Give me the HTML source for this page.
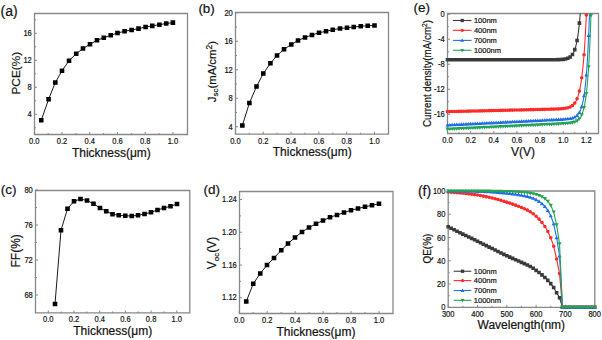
<!DOCTYPE html>
<html><head><meta charset="utf-8"><style>
html,body{margin:0;padding:0;background:#fff;}
svg{display:block;}
text{font-family:"Liberation Sans", sans-serif;fill:#111;stroke:#111;stroke-width:0.2px;}
</style></head><body>
<svg width="602" height="340" viewBox="0 0 602 340">
<rect width="602" height="340" fill="#fff"/>
<path d="M34.5 13.5H187.5V134.5H34.5Z" fill="none" stroke="#888888" stroke-width="1.3"/>
<path d="M34.5 33.25h2.5M34.5 60.25h2.5M34.5 87.25h2.5M34.5 114.25h2.5M34.5 19.75h1.5M34.5 46.75h1.5M34.5 73.75h1.5M34.5 100.75h1.5M34.5 127.75h1.5" stroke="#888888" stroke-width="1" fill="none"/>
<text transform="translate(31.8 36.35) scale(0.86 1)" font-size="8.8" text-anchor="end">16</text>
<text transform="translate(31.8 63.35) scale(0.86 1)" font-size="8.8" text-anchor="end">12</text>
<text transform="translate(31.8 90.35) scale(0.86 1)" font-size="8.8" text-anchor="end">8</text>
<text transform="translate(31.8 117.35) scale(0.86 1)" font-size="8.8" text-anchor="end">4</text>
<path d="M34.3 134.5v-2.5M62.02 134.5v-2.5M89.74 134.5v-2.5M117.46 134.5v-2.5M145.18 134.5v-2.5M172.9 134.5v-2.5M48.16 134.5v-1.5M75.88 134.5v-1.5M103.6 134.5v-1.5M131.32 134.5v-1.5M159.04 134.5v-1.5" stroke="#888888" stroke-width="1" fill="none"/>
<text transform="translate(34.3 143.9) scale(0.86 1)" font-size="8.8" text-anchor="middle">0.0</text>
<text transform="translate(62.02 143.9) scale(0.86 1)" font-size="8.8" text-anchor="middle">0.2</text>
<text transform="translate(89.74 143.9) scale(0.86 1)" font-size="8.8" text-anchor="middle">0.4</text>
<text transform="translate(117.46 143.9) scale(0.86 1)" font-size="8.8" text-anchor="middle">0.6</text>
<text transform="translate(145.18 143.9) scale(0.86 1)" font-size="8.8" text-anchor="middle">0.8</text>
<text transform="translate(172.9 143.9) scale(0.86 1)" font-size="8.8" text-anchor="middle">1.0</text>
<path d="M41.25 120.25 L48.6 99.25 L55.3 82.5 L62 70.75 L69 60.75 L76.2 53.75 L83 48.5 L90 44.25 L97 40.25 L103.75 37.75 L110.75 35.25 L117.5 33 L124.6 31.3 L131.6 30 L138.5 28.6 L145.6 27 L152.3 25.9 L159.4 24.7 L166.2 23.5 L172.9 22.6" fill="none" stroke="#1a1a1a" stroke-width="1.0" stroke-linejoin="round"/>
<path d="M38.95 117.95h4.6v4.6h-4.6zM46.3 96.95h4.6v4.6h-4.6zM53 80.2h4.6v4.6h-4.6zM59.7 68.45h4.6v4.6h-4.6zM66.7 58.45h4.6v4.6h-4.6zM73.9 51.45h4.6v4.6h-4.6zM80.7 46.2h4.6v4.6h-4.6zM87.7 41.95h4.6v4.6h-4.6zM94.7 37.95h4.6v4.6h-4.6zM101.45 35.45h4.6v4.6h-4.6zM108.45 32.95h4.6v4.6h-4.6zM115.2 30.7h4.6v4.6h-4.6zM122.3 29h4.6v4.6h-4.6zM129.3 27.7h4.6v4.6h-4.6zM136.2 26.3h4.6v4.6h-4.6zM143.3 24.7h4.6v4.6h-4.6zM150 23.6h4.6v4.6h-4.6zM157.1 22.4h4.6v4.6h-4.6zM163.9 21.2h4.6v4.6h-4.6zM170.6 20.3h4.6v4.6h-4.6z" fill="#000"/>
<text x="111.4" y="156.7" font-size="12" text-anchor="middle">Thickness(μm)</text>
<text transform="translate(19.9 73.2) rotate(-90)" font-size="11.8" text-anchor="middle">PCE(%)</text>
<text x="0.5" y="15.9" font-size="14" text-anchor="start">(a)</text>
<path d="M235.5 12.5H388.5V134.2H235.5Z" fill="none" stroke="#888888" stroke-width="1.3"/>
<path d="M235.5 12.75h2.5M235.5 41.25h2.5M235.5 69.75h2.5M235.5 98.25h2.5M235.5 126.75h2.5M235.5 27h1.5M235.5 55.5h1.5M235.5 84h1.5M235.5 112.5h1.5" stroke="#888888" stroke-width="1" fill="none"/>
<text transform="translate(232.8 15.85) scale(0.86 1)" font-size="8.8" text-anchor="end">20</text>
<text transform="translate(232.8 44.35) scale(0.86 1)" font-size="8.8" text-anchor="end">16</text>
<text transform="translate(232.8 72.85) scale(0.86 1)" font-size="8.8" text-anchor="end">12</text>
<text transform="translate(232.8 101.35) scale(0.86 1)" font-size="8.8" text-anchor="end">8</text>
<text transform="translate(232.8 129.85) scale(0.86 1)" font-size="8.8" text-anchor="end">4</text>
<path d="M235.4 134.2v-2.5M263.22 134.2v-2.5M291.04 134.2v-2.5M318.86 134.2v-2.5M346.68 134.2v-2.5M374.5 134.2v-2.5M249.31 134.2v-1.5M277.13 134.2v-1.5M304.95 134.2v-1.5M332.77 134.2v-1.5M360.59 134.2v-1.5" stroke="#888888" stroke-width="1" fill="none"/>
<text transform="translate(235.4 143.6) scale(0.86 1)" font-size="8.8" text-anchor="middle">0.0</text>
<text transform="translate(263.22 143.6) scale(0.86 1)" font-size="8.8" text-anchor="middle">0.2</text>
<text transform="translate(291.04 143.6) scale(0.86 1)" font-size="8.8" text-anchor="middle">0.4</text>
<text transform="translate(318.86 143.6) scale(0.86 1)" font-size="8.8" text-anchor="middle">0.6</text>
<text transform="translate(346.68 143.6) scale(0.86 1)" font-size="8.8" text-anchor="middle">0.8</text>
<text transform="translate(374.5 143.6) scale(0.86 1)" font-size="8.8" text-anchor="middle">1.0</text>
<path d="M242.35 125.5 L249.4 103 L256.5 86.5 L263.3 73.5 L270.4 63.3 L277 55.5 L284 49.25 L291.25 44.5 L298 40.5 L305 37.5 L312 35 L319 32.75 L326 31.25 L332.75 29.75 L340 28.5 L347 27.75 L353.75 27 L360.75 26.25 L367.75 25.75 L374.5 25.5" fill="none" stroke="#1a1a1a" stroke-width="1.0" stroke-linejoin="round"/>
<path d="M240.05 123.2h4.6v4.6h-4.6zM247.1 100.7h4.6v4.6h-4.6zM254.2 84.2h4.6v4.6h-4.6zM261 71.2h4.6v4.6h-4.6zM268.1 61h4.6v4.6h-4.6zM274.7 53.2h4.6v4.6h-4.6zM281.7 46.95h4.6v4.6h-4.6zM288.95 42.2h4.6v4.6h-4.6zM295.7 38.2h4.6v4.6h-4.6zM302.7 35.2h4.6v4.6h-4.6zM309.7 32.7h4.6v4.6h-4.6zM316.7 30.45h4.6v4.6h-4.6zM323.7 28.95h4.6v4.6h-4.6zM330.45 27.45h4.6v4.6h-4.6zM337.7 26.2h4.6v4.6h-4.6zM344.7 25.45h4.6v4.6h-4.6zM351.45 24.7h4.6v4.6h-4.6zM358.45 23.95h4.6v4.6h-4.6zM365.45 23.45h4.6v4.6h-4.6zM372.2 23.2h4.6v4.6h-4.6z" fill="#000"/>
<text x="312.25" y="156.2" font-size="12" text-anchor="middle">Thickness(μm)</text>
<text transform="translate(215.8 71.6) rotate(-90)" font-size="11.3" text-anchor="middle">J<tspan font-size="8" dy="1.8">sc</tspan><tspan dy="-1.8">(mA/cm</tspan><tspan font-size="8.6" dy="-4.2">2</tspan><tspan dy="4.2">)</tspan></text>
<text x="198.4" y="12.8" font-size="13.4" text-anchor="start">(b)</text>
<path d="M35.5 190.5H189.8V312.9H35.5Z" fill="none" stroke="#888888" stroke-width="1.3"/>
<path d="M35.5 190h2.5M35.5 225h2.5M35.5 260h2.5M35.5 295h2.5M35.5 207.5h1.5M35.5 242.5h1.5M35.5 277.5h1.5" stroke="#888888" stroke-width="1" fill="none"/>
<text transform="translate(32.8 193.1) scale(0.86 1)" font-size="8.8" text-anchor="end">80</text>
<text transform="translate(32.8 228.1) scale(0.86 1)" font-size="8.8" text-anchor="end">76</text>
<text transform="translate(32.8 263.1) scale(0.86 1)" font-size="8.8" text-anchor="end">72</text>
<text transform="translate(32.8 298.1) scale(0.86 1)" font-size="8.8" text-anchor="end">68</text>
<path d="M48.3 312.9v-2.5M74 312.9v-2.5M99.7 312.9v-2.5M125.4 312.9v-2.5M151.1 312.9v-2.5M176.8 312.9v-2.5M35.45 312.9v-1.5M61.15 312.9v-1.5M86.85 312.9v-1.5M112.55 312.9v-1.5M138.25 312.9v-1.5M163.95 312.9v-1.5" stroke="#888888" stroke-width="1" fill="none"/>
<text transform="translate(48.3 322.3) scale(0.86 1)" font-size="8.8" text-anchor="middle">0.0</text>
<text transform="translate(74 322.3) scale(0.86 1)" font-size="8.8" text-anchor="middle">0.2</text>
<text transform="translate(99.7 322.3) scale(0.86 1)" font-size="8.8" text-anchor="middle">0.4</text>
<text transform="translate(125.4 322.3) scale(0.86 1)" font-size="8.8" text-anchor="middle">0.6</text>
<text transform="translate(151.1 322.3) scale(0.86 1)" font-size="8.8" text-anchor="middle">0.8</text>
<text transform="translate(176.8 322.3) scale(0.86 1)" font-size="8.8" text-anchor="middle">1.0</text>
<path d="M55 304 L61 230.25 L67.5 208.75 L74 201.25 L80.5 199 L87 200.5 L93.5 203.75 L100 208 L106.25 211.25 L112.5 214.25 L118.75 215.25 L125.25 215.75 L131.75 216 L138 215.25 L144.5 214 L151 212.25 L157.5 210 L164 208 L170.5 206.25 L177 204" fill="none" stroke="#1a1a1a" stroke-width="1.0" stroke-linejoin="round"/>
<path d="M52.7 301.7h4.6v4.6h-4.6zM58.7 227.95h4.6v4.6h-4.6zM65.2 206.45h4.6v4.6h-4.6zM71.7 198.95h4.6v4.6h-4.6zM78.2 196.7h4.6v4.6h-4.6zM84.7 198.2h4.6v4.6h-4.6zM91.2 201.45h4.6v4.6h-4.6zM97.7 205.7h4.6v4.6h-4.6zM103.95 208.95h4.6v4.6h-4.6zM110.2 211.95h4.6v4.6h-4.6zM116.45 212.95h4.6v4.6h-4.6zM122.95 213.45h4.6v4.6h-4.6zM129.45 213.7h4.6v4.6h-4.6zM135.7 212.95h4.6v4.6h-4.6zM142.2 211.7h4.6v4.6h-4.6zM148.7 209.95h4.6v4.6h-4.6zM155.2 207.7h4.6v4.6h-4.6zM161.7 205.7h4.6v4.6h-4.6zM168.2 203.95h4.6v4.6h-4.6zM174.7 201.7h4.6v4.6h-4.6z" fill="#000"/>
<text x="112.7" y="334.5" font-size="12" text-anchor="middle">Thickness(μm)</text>
<text transform="translate(20.3 250.8) rotate(-90)" font-size="12" text-anchor="middle">FF(%)</text>
<text x="0.7" y="193.7" font-size="13.6" text-anchor="start">(c)</text>
<path d="M239.5 191.5H393V313.5H239.5Z" fill="none" stroke="#888888" stroke-width="1.3"/>
<path d="M239.5 199.5h2.5M239.5 232.25h2.5M239.5 265h2.5M239.5 297.75h2.5M239.5 215.9h1.5M239.5 248.6h1.5M239.5 281.4h1.5" stroke="#888888" stroke-width="1" fill="none"/>
<text transform="translate(236.8 202) scale(0.86 1)" font-size="8.8" text-anchor="end">1.24</text>
<text transform="translate(236.8 234.75) scale(0.86 1)" font-size="8.8" text-anchor="end">1.20</text>
<text transform="translate(236.8 267.5) scale(0.86 1)" font-size="8.8" text-anchor="end">1.16</text>
<text transform="translate(236.8 300.25) scale(0.86 1)" font-size="8.8" text-anchor="end">1.12</text>
<path d="M239.25 313.5v-2.5M267.2 313.5v-2.5M295.15 313.5v-2.5M323.1 313.5v-2.5M351.05 313.5v-2.5M379 313.5v-2.5M253.22 313.5v-1.5M281.18 313.5v-1.5M309.12 313.5v-1.5M337.07 313.5v-1.5M365.02 313.5v-1.5" stroke="#888888" stroke-width="1" fill="none"/>
<text transform="translate(239.25 322.9) scale(0.86 1)" font-size="8.8" text-anchor="middle">0.0</text>
<text transform="translate(267.2 322.9) scale(0.86 1)" font-size="8.8" text-anchor="middle">0.2</text>
<text transform="translate(295.15 322.9) scale(0.86 1)" font-size="8.8" text-anchor="middle">0.4</text>
<text transform="translate(323.1 322.9) scale(0.86 1)" font-size="8.8" text-anchor="middle">0.6</text>
<text transform="translate(351.05 322.9) scale(0.86 1)" font-size="8.8" text-anchor="middle">0.8</text>
<text transform="translate(379 322.9) scale(0.86 1)" font-size="8.8" text-anchor="middle">1.0</text>
<path d="M246.25 301.5 L253.25 283.75 L260.25 273.5 L267 265 L274 258 L281.25 250.25 L288 243.5 L295 237.5 L302 232 L309 227.5 L316 223.75 L323 220.5 L330 217.25 L337 215 L344 212.5 L351 210.25 L358 208.5 L365 206.75 L372 205.25 L379 203.75" fill="none" stroke="#1a1a1a" stroke-width="1.0" stroke-linejoin="round"/>
<path d="M243.95 299.2h4.6v4.6h-4.6zM250.95 281.45h4.6v4.6h-4.6zM257.95 271.2h4.6v4.6h-4.6zM264.7 262.7h4.6v4.6h-4.6zM271.7 255.7h4.6v4.6h-4.6zM278.95 247.95h4.6v4.6h-4.6zM285.7 241.2h4.6v4.6h-4.6zM292.7 235.2h4.6v4.6h-4.6zM299.7 229.7h4.6v4.6h-4.6zM306.7 225.2h4.6v4.6h-4.6zM313.7 221.45h4.6v4.6h-4.6zM320.7 218.2h4.6v4.6h-4.6zM327.7 214.95h4.6v4.6h-4.6zM334.7 212.7h4.6v4.6h-4.6zM341.7 210.2h4.6v4.6h-4.6zM348.7 207.95h4.6v4.6h-4.6zM355.7 206.2h4.6v4.6h-4.6zM362.7 204.45h4.6v4.6h-4.6zM369.7 202.95h4.6v4.6h-4.6zM376.7 201.45h4.6v4.6h-4.6z" fill="#000"/>
<text x="316" y="335.5" font-size="12" text-anchor="middle">Thickness(μm)</text>
<text transform="translate(216.3 253) rotate(-90)" font-size="12" text-anchor="middle">V<tspan font-size="8" dy="2.5">oc</tspan><tspan dy="-2.5">(V)</tspan></text>
<text x="203.4" y="194.1" font-size="13.6" text-anchor="start">(d)</text>
<path d="M447.5 13.5H598.5V133.5H447.5Z" fill="none" stroke="#888888" stroke-width="1.3"/>
<path d="M447.5 14.25h2.5M447.5 39.25h2.5M447.5 64.25h2.5M447.5 89.25h2.5M447.5 114.25h2.5M447.5 26.75h1.5M447.5 51.75h1.5M447.5 76.75h1.5M447.5 101.75h1.5M447.5 126.75h1.5" stroke="#888888" stroke-width="1" fill="none"/>
<text transform="translate(444.8 17.35) scale(0.86 1)" font-size="8.8" text-anchor="end">0</text>
<text transform="translate(444.8 42.35) scale(0.86 1)" font-size="8.8" text-anchor="end">-4</text>
<text transform="translate(444.8 67.35) scale(0.86 1)" font-size="8.8" text-anchor="end">-8</text>
<text transform="translate(444.8 92.35) scale(0.86 1)" font-size="8.8" text-anchor="end">-12</text>
<text transform="translate(444.8 117.35) scale(0.86 1)" font-size="8.8" text-anchor="end">-16</text>
<path d="M447.5 133.5v-2.5M470.64 133.5v-2.5M493.78 133.5v-2.5M516.92 133.5v-2.5M540.06 133.5v-2.5M563.2 133.5v-2.5M586.34 133.5v-2.5M459.07 133.5v-1.5M482.21 133.5v-1.5M505.35 133.5v-1.5M528.49 133.5v-1.5M551.63 133.5v-1.5M574.77 133.5v-1.5" stroke="#888888" stroke-width="1" fill="none"/>
<text transform="translate(447.5 142.9) scale(0.86 1)" font-size="8.8" text-anchor="middle">0.0</text>
<text transform="translate(470.64 142.9) scale(0.86 1)" font-size="8.8" text-anchor="middle">0.2</text>
<text transform="translate(493.78 142.9) scale(0.86 1)" font-size="8.8" text-anchor="middle">0.4</text>
<text transform="translate(516.92 142.9) scale(0.86 1)" font-size="8.8" text-anchor="middle">0.6</text>
<text transform="translate(540.06 142.9) scale(0.86 1)" font-size="8.8" text-anchor="middle">0.8</text>
<text transform="translate(563.2 142.9) scale(0.86 1)" font-size="8.8" text-anchor="middle">1.0</text>
<text transform="translate(586.34 142.9) scale(0.86 1)" font-size="8.8" text-anchor="middle">1.2</text>
<path d="M447.5 59.82 L448 59.82 L448.5 59.82 L449 59.82 L449.51 59.82 L450.01 59.82 L450.51 59.82 L451.01 59.82 L451.51 59.82 L452 59.82 L452.5 59.82 L453 59.82 L453.51 59.82 L454.01 59.82 L454.51 59.82 L455.01 59.82 L455.51 59.82 L456.02 59.82 L456.5 59.82 L457 59.82 L457.5 59.82 L458.01 59.82 L458.51 59.82 L459.01 59.82 L459.51 59.82 L460.01 59.82 L460.52 59.82 L461 59.82 L461.5 59.82 L462 59.81 L462.51 59.81 L463.01 59.81 L463.51 59.81 L464.01 59.81 L464.51 59.81 L465 59.81 L465.5 59.81 L466 59.81 L466.5 59.81 L467.01 59.81 L467.51 59.81 L468.01 59.81 L468.51 59.81 L469.01 59.81 L469.5 59.81 L470 59.81 L470.5 59.81 L471.01 59.81 L471.51 59.81 L472.01 59.81 L472.51 59.81 L473.01 59.81 L473.52 59.81 L474 59.81 L474.5 59.81 L475 59.81 L475.51 59.81 L476.01 59.81 L476.51 59.81 L477.01 59.81 L477.51 59.81 L478 59.81 L478.5 59.81 L479 59.81 L479.5 59.81 L480.01 59.81 L480.51 59.81 L481.01 59.81 L481.51 59.81 L482.01 59.81 L482.5 59.81 L483 59.81 L483.5 59.81 L484.01 59.81 L484.51 59.81 L485.01 59.81 L485.51 59.81 L486.01 59.8 L486.52 59.8 L487 59.8 L487.5 59.8 L488 59.8 L488.51 59.8 L489.01 59.8 L489.51 59.8 L490.01 59.8 L490.51 59.8 L491.02 59.8 L491.5 59.8 L492 59.8 L492.5 59.8 L493.01 59.8 L493.51 59.8 L494.01 59.8 L494.51 59.8 L495.01 59.8 L495.5 59.8 L496 59.8 L496.5 59.8 L497.01 59.8 L497.51 59.8 L498.01 59.8 L498.51 59.8 L499.01 59.8 L499.51 59.8 L500 59.8 L500.5 59.8 L501 59.8 L501.51 59.8 L502.01 59.8 L502.51 59.8 L503.01 59.8 L503.51 59.8 L504.02 59.8 L504.5 59.8 L505 59.8 L505.5 59.8 L506.01 59.8 L506.51 59.8 L507.01 59.8 L507.51 59.8 L508.01 59.8 L508.5 59.8 L509 59.8 L509.5 59.79 L510 59.79 L510.51 59.79 L511.01 59.79 L511.51 59.79 L512.01 59.79 L512.51 59.79 L513 59.79 L513.5 59.79 L514 59.79 L514.51 59.79 L515.01 59.79 L515.51 59.79 L516.01 59.79 L516.51 59.79 L517.02 59.79 L517.5 59.79 L518 59.79 L518.5 59.79 L519.01 59.79 L519.51 59.79 L520.01 59.79 L520.51 59.79 L521.01 59.79 L521.5 59.79 L522 59.79 L522.5 59.79 L523 59.79 L523.51 59.79 L524.01 59.79 L524.51 59.79 L525.01 59.79 L525.51 59.79 L526 59.79 L526.5 59.79 L527 59.79 L527.51 59.79 L528.01 59.79 L528.51 59.79 L529.01 59.79 L529.51 59.79 L530.02 59.79 L530.5 59.79 L531 59.79 L531.5 59.79 L532.01 59.79 L532.51 59.79 L533.01 59.79 L533.51 59.78 L534.01 59.78 L534.52 59.78 L535 59.78 L535.5 59.78 L536 59.78 L536.51 59.78 L537.01 59.78 L537.51 59.78 L538.01 59.78 L538.51 59.78 L539 59.78 L539.5 59.78 L540 59.78 L540.5 59.78 L541.01 59.78 L541.51 59.78 L542.01 59.78 L542.51 59.78 L543.01 59.78 L543.5 59.78 L544 59.78 L544.5 59.78 L545.01 59.78 L545.51 59.78 L546.01 59.78 L546.51 59.78 L547.01 59.77 L547.52 59.77 L548 59.77 L548.5 59.77 L549 59.77 L549.51 59.77 L550.01 59.77 L550.51 59.77 L551.01 59.76 L551.51 59.76 L552 59.76 L552.5 59.76 L553 59.75 L553.5 59.75 L554.01 59.74 L554.51 59.74 L555.01 59.73 L555.51 59.73 L556.01 59.72 L556.5 59.71 L557 59.7 L557.5 59.69 L558.01 59.68 L558.51 59.66 L559.01 59.65 L559.51 59.63 L560.01 59.61 L560.5 59.58 L561 59.55 L561.5 59.52 L562 59.48 L562.51 59.44 L562.99 59.39 L563.49 59.33 L563.99 59.26 L564.48 59.19 L564.98 59.1 L565.47 59.01 L565.95 58.9 L566.44 58.77 L566.92 58.62 L567.39 58.46 L567.85 58.28 L568.32 58.08 L568.75 57.86 L569.2 57.61 L569.62 57.34 L570.02 57.06 L570.42 56.74 L570.8 56.4 L571.14 56.06 L571.49 55.69 L571.82 55.3 L572.11 54.92 L572.41 54.5 L572.68 54.08 L572.94 53.66 L573.19 53.23 L573.43 52.78 L573.65 52.33 L573.86 51.89 L574.07 51.42 L574.26 50.96 L574.45 50.49 L574.62 50.03 L574.8 49.55 L574.95 49.1 L575.11 48.63 L575.26 48.13 L575.42 47.62 L575.56 47.14 L575.68 46.71 L575.82 46.2 L575.94 45.73 L576.06 45.25 L576.18 44.76 L576.3 44.24 L576.41 43.79 L576.53 43.24 L576.63 42.76 L576.74 42.26 L576.82 41.84 L576.93 41.31 L577.01 40.86 L577.12 40.31 L577.2 39.84 L577.29 39.35 L577.38 38.85 L577.46 38.35 L577.55 37.82 L577.62 37.4 L577.7 36.85 L577.77 36.41 L577.86 35.84 L577.93 35.38 L578 34.9 L578.07 34.42 L578.14 33.93 L578.21 33.43 L578.28 32.92 L578.35 32.39 L578.41 31.86 L578.47 31.46 L578.54 30.91 L578.61 30.35 L578.66 29.92 L578.71 29.49 L578.78 28.9 L578.83 28.45 L578.88 28 L578.95 27.38 L579 26.91 L579.06 26.43 L579.11 25.95 L579.16 25.46 L579.21 24.96 L579.26 24.45 L579.31 23.94 L579.37 23.42 L579.42 22.89 L579.47 22.36 L579.51 21.99 L579.56 21.45 L579.61 20.89 L579.64 20.51 L579.7 19.94 L579.75 19.36 L579.78 18.97 L579.83 18.38 L579.87 17.98 L579.92 17.38 L579.96 16.97 L579.99 16.55 L580.04 15.92 L580.08 15.5 L580.13 14.86 L580.16 14.42 L580.2 13.99 L580.23 13.54 L580.24 13.5" fill="none" stroke="#3a3a3a" stroke-width="1.1" stroke-linejoin="round"/>
<path d="M445.7 58.02h3.6v3.6h-3.6zM448.01 58.02h3.6v3.6h-3.6zM450.33 58.02h3.6v3.6h-3.6zM452.64 58.02h3.6v3.6h-3.6zM454.96 58.02h3.6v3.6h-3.6zM457.27 58.02h3.6v3.6h-3.6zM459.58 58.02h3.6v3.6h-3.6zM461.9 58.01h3.6v3.6h-3.6zM464.21 58.01h3.6v3.6h-3.6zM466.53 58.01h3.6v3.6h-3.6zM468.84 58.01h3.6v3.6h-3.6zM471.15 58.01h3.6v3.6h-3.6zM473.47 58.01h3.6v3.6h-3.6zM475.78 58.01h3.6v3.6h-3.6zM478.1 58.01h3.6v3.6h-3.6zM480.41 58.01h3.6v3.6h-3.6zM482.72 58.01h3.6v3.6h-3.6zM485.04 58h3.6v3.6h-3.6zM487.35 58h3.6v3.6h-3.6zM489.67 58h3.6v3.6h-3.6zM491.98 58h3.6v3.6h-3.6zM494.29 58h3.6v3.6h-3.6zM496.61 58h3.6v3.6h-3.6zM498.92 58h3.6v3.6h-3.6zM501.24 58h3.6v3.6h-3.6zM503.55 58h3.6v3.6h-3.6zM505.86 58h3.6v3.6h-3.6zM508.18 57.99h3.6v3.6h-3.6zM510.49 57.99h3.6v3.6h-3.6zM512.81 57.99h3.6v3.6h-3.6zM515.12 57.99h3.6v3.6h-3.6zM517.43 57.99h3.6v3.6h-3.6zM519.75 57.99h3.6v3.6h-3.6zM522.06 57.99h3.6v3.6h-3.6zM524.38 57.99h3.6v3.6h-3.6zM526.69 57.99h3.6v3.6h-3.6zM529 57.99h3.6v3.6h-3.6zM531.32 57.99h3.6v3.6h-3.6zM533.63 57.98h3.6v3.6h-3.6zM535.95 57.98h3.6v3.6h-3.6zM538.26 57.98h3.6v3.6h-3.6zM540.57 57.98h3.6v3.6h-3.6zM542.89 57.98h3.6v3.6h-3.6zM545.2 57.97h3.6v3.6h-3.6zM547.52 57.97h3.6v3.6h-3.6zM549.83 57.96h3.6v3.6h-3.6zM552.14 57.95h3.6v3.6h-3.6zM554.46 57.92h3.6v3.6h-3.6zM556.77 57.86h3.6v3.6h-3.6zM559.09 57.76h3.6v3.6h-3.6zM561.4 57.56h3.6v3.6h-3.6zM563.71 57.2h3.6v3.6h-3.6zM566.03 56.49h3.6v3.6h-3.6zM568.34 55.16h3.6v3.6h-3.6zM570.66 52.63h3.6v3.6h-3.6zM572.97 47.82h3.6v3.6h-3.6zM575.28 38.68h3.6v3.6h-3.6zM577.6 21.3h3.6v3.6h-3.6z" fill="#3a3a3a"/>
<path d="M447.3 111.66 L447.8 111.65 L448.31 111.64 L448.8 111.62 L449.31 111.61 L449.81 111.6 L450.3 111.59 L450.81 111.58 L451.31 111.56 L451.8 111.55 L452.31 111.54 L452.81 111.53 L453.3 111.52 L453.81 111.51 L454.3 111.49 L454.8 111.48 L455.31 111.47 L455.8 111.46 L456.3 111.45 L456.81 111.43 L457.3 111.42 L457.81 111.41 L458.31 111.4 L458.8 111.39 L459.31 111.37 L459.8 111.36 L460.3 111.35 L460.81 111.34 L461.3 111.33 L461.8 111.32 L462.31 111.3 L462.8 111.29 L463.3 111.28 L463.81 111.27 L464.3 111.26 L464.8 111.24 L465.29 111.23 L465.8 111.22 L466.31 111.21 L466.79 111.2 L467.3 111.19 L467.81 111.17 L468.3 111.16 L468.8 111.15 L469.31 111.14 L469.8 111.13 L470.3 111.11 L470.81 111.1 L471.3 111.09 L471.8 111.08 L472.29 111.07 L472.8 111.06 L473.31 111.04 L473.79 111.03 L474.3 111.02 L474.81 111.01 L475.29 111 L475.8 110.98 L476.31 110.97 L476.8 110.96 L477.3 110.95 L477.79 110.94 L478.3 110.92 L478.8 110.91 L479.29 110.9 L479.8 110.89 L480.3 110.88 L480.79 110.87 L481.3 110.85 L481.81 110.84 L482.29 110.83 L482.8 110.82 L483.29 110.81 L483.79 110.79 L484.3 110.78 L484.79 110.77 L485.3 110.76 L485.8 110.75 L486.29 110.74 L486.8 110.72 L487.3 110.71 L487.79 110.7 L488.3 110.69 L488.79 110.68 L489.29 110.66 L489.8 110.65 L490.29 110.64 L490.79 110.63 L491.3 110.62 L491.79 110.61 L492.3 110.59 L492.8 110.58 L493.29 110.57 L493.8 110.56 L494.3 110.55 L494.79 110.53 L495.3 110.52 L495.79 110.51 L496.29 110.5 L496.8 110.49 L497.29 110.47 L497.79 110.46 L498.3 110.45 L498.79 110.44 L499.29 110.43 L499.8 110.42 L500.29 110.4 L500.8 110.39 L501.28 110.38 L501.79 110.37 L502.3 110.36 L502.78 110.34 L503.29 110.33 L503.8 110.32 L504.29 110.31 L504.79 110.3 L505.3 110.29 L505.79 110.27 L506.29 110.26 L506.78 110.25 L507.29 110.24 L507.79 110.23 L508.28 110.21 L508.79 110.2 L509.3 110.19 L509.78 110.18 L510.29 110.17 L510.8 110.15 L511.29 110.14 L511.79 110.13 L512.28 110.12 L512.79 110.11 L513.29 110.1 L513.78 110.08 L514.29 110.07 L514.79 110.06 L515.28 110.05 L515.79 110.04 L516.29 110.02 L516.78 110.01 L517.29 110 L517.8 109.99 L518.28 109.98 L518.79 109.97 L519.28 109.95 L519.79 109.94 L520.29 109.93 L520.78 109.92 L521.29 109.91 L521.79 109.89 L522.28 109.88 L522.79 109.87 L523.29 109.86 L523.78 109.85 L524.29 109.84 L524.78 109.82 L525.28 109.81 L525.79 109.8 L526.28 109.79 L526.78 109.78 L527.29 109.76 L527.78 109.75 L528.29 109.74 L528.79 109.73 L529.28 109.72 L529.79 109.7 L530.28 109.69 L530.78 109.68 L531.29 109.67 L531.78 109.66 L532.28 109.65 L532.79 109.63 L533.28 109.62 L533.78 109.61 L534.29 109.6 L534.78 109.59 L535.28 109.57 L535.79 109.56 L536.28 109.55 L536.79 109.54 L537.27 109.53 L537.78 109.51 L538.29 109.5 L538.78 109.49 L539.28 109.48 L539.79 109.47 L540.28 109.46 L540.78 109.44 L541.29 109.43 L541.78 109.42 L542.28 109.41 L542.77 109.4 L543.28 109.38 L543.79 109.37 L544.27 109.36 L544.78 109.35 L545.29 109.33 L545.77 109.32 L546.28 109.31 L546.79 109.3 L547.28 109.28 L547.78 109.27 L548.27 109.26 L548.78 109.25 L549.28 109.23 L549.77 109.22 L550.28 109.21 L550.78 109.19 L551.27 109.18 L551.78 109.16 L552.29 109.15 L552.77 109.14 L553.28 109.12 L553.77 109.11 L554.27 109.09 L554.78 109.07 L555.27 109.06 L555.78 109.04 L556.28 109.02 L556.77 109 L557.28 108.98 L557.77 108.96 L558.27 108.94 L558.78 108.91 L559.27 108.89 L559.77 108.86 L560.26 108.83 L560.77 108.8 L561.27 108.76 L561.76 108.72 L562.27 108.68 L562.76 108.64 L563.26 108.59 L563.75 108.53 L564.26 108.47 L564.75 108.41 L565.24 108.34 L565.74 108.25 L566.23 108.17 L566.72 108.07 L567.21 107.96 L567.7 107.84 L568.17 107.71 L568.66 107.55 L569.13 107.39 L569.6 107.21 L570.05 107.02 L570.5 106.8 L570.94 106.57 L571.37 106.31 L571.79 106.04 L572.2 105.74 L572.6 105.43 L572.96 105.11 L573.33 104.77 L573.69 104.4 L574.02 104.03 L574.34 103.64 L574.63 103.26 L574.92 102.85 L575.21 102.41 L575.47 102.01 L575.72 101.57 L575.98 101.11 L576.19 100.69 L576.41 100.25 L576.63 99.78 L576.83 99.34 L577.03 98.86 L577.21 98.41 L577.39 97.94 L577.57 97.45 L577.74 96.99 L577.9 96.51 L578.07 96.01 L578.21 95.55 L578.36 95.07 L578.5 94.58 L578.63 94.13 L578.78 93.6 L578.9 93.12 L579.03 92.63 L579.14 92.19 L579.27 91.67 L579.38 91.21 L579.49 90.74 L579.6 90.25 L579.71 89.75 L579.82 89.23 L579.91 88.8 L580.02 88.26 L580.11 87.8 L580.2 87.32 L580.31 86.75 L580.4 86.25 L580.47 85.85 L580.57 85.33 L580.66 84.81 L580.73 84.38 L580.82 83.83 L580.89 83.38 L580.99 82.81 L581.06 82.34 L581.13 81.87 L581.21 81.39 L581.28 80.9 L581.35 80.4 L581.43 79.89 L581.5 79.37 L581.57 78.84 L581.63 78.44 L581.7 77.89 L581.78 77.34 L581.83 76.92 L581.9 76.35 L581.96 75.91 L582.01 75.47 L582.09 74.87 L582.14 74.41 L582.2 73.95 L582.25 73.48 L582.33 72.85 L582.38 72.37 L582.44 71.88 L582.49 71.38 L582.55 70.88 L582.6 70.37 L582.66 69.86 L582.7 69.51 L582.75 68.98 L582.81 68.44 L582.86 67.9 L582.92 67.35 L582.95 66.98 L583.01 66.42 L583.07 65.85 L583.1 65.47 L583.16 64.89 L583.19 64.49 L583.25 63.9 L583.29 63.5 L583.34 62.89 L583.38 62.48 L583.44 61.85 L583.47 61.43 L583.51 61.01 L583.56 60.37 L583.6 59.93 L583.64 59.5 L583.69 58.83 L583.73 58.39 L583.77 57.94 L583.81 57.48 L583.84 57.02 L583.88 56.56 L583.94 55.86 L583.97 55.38 L584.01 54.91 L584.05 54.42 L584.08 53.94 L584.12 53.45 L584.16 52.95 L584.2 52.45 L584.23 51.95 L584.27 51.44 L584.31 50.93 L584.34 50.41 L584.38 49.89 L584.42 49.36 L584.46 48.83 L584.48 48.56 L584.51 48.02 L584.55 47.47 L584.59 46.93 L584.62 46.37 L584.66 45.81 L584.68 45.53 L584.72 44.97 L584.76 44.39 L584.79 43.82 L584.81 43.53 L584.85 42.94 L584.89 42.35 L584.9 42.06 L584.94 41.46 L584.98 40.86 L585 40.55 L585.04 39.94 L585.07 39.33 L585.09 39.02 L585.13 38.39 L585.15 38.08 L585.19 37.44 L585.22 36.8 L585.24 36.48 L585.28 35.83 L585.3 35.51 L585.34 34.85 L585.35 34.52 L585.39 33.86 L585.41 33.52 L585.45 32.85 L585.47 32.51 L585.5 31.83 L585.52 31.48 L585.56 30.79 L585.58 30.44 L585.6 30.09 L585.64 29.39 L585.66 29.03 L585.69 28.32 L585.71 27.96 L585.73 27.6 L585.77 26.87 L585.79 26.5 L585.82 25.76 L585.84 25.39 L585.86 25.02 L585.9 24.27 L585.92 23.89 L585.94 23.51 L585.98 22.75 L585.99 22.36 L586.01 21.98 L586.03 21.59 L586.07 20.81 L586.09 20.42 L586.11 20.02 L586.13 19.62 L586.16 18.82 L586.18 18.42 L586.2 18.02 L586.22 17.61 L586.26 16.8 L586.28 16.38 L586.3 15.97 L586.32 15.56 L586.35 14.72 L586.37 14.3 L586.39 13.88 L586.41 13.5" fill="none" stroke="#ff2a2a" stroke-width="1.1" stroke-linejoin="round"/>
<path d="M445.7 111.65a1.8 1.8 0 1 0 3.6 0a1.8 1.8 0 1 0 -3.6 0zM448.01 111.6a1.8 1.8 0 1 0 3.6 0a1.8 1.8 0 1 0 -3.6 0zM450.33 111.55a1.8 1.8 0 1 0 3.6 0a1.8 1.8 0 1 0 -3.6 0zM452.64 111.49a1.8 1.8 0 1 0 3.6 0a1.8 1.8 0 1 0 -3.6 0zM454.96 111.44a1.8 1.8 0 1 0 3.6 0a1.8 1.8 0 1 0 -3.6 0zM457.27 111.38a1.8 1.8 0 1 0 3.6 0a1.8 1.8 0 1 0 -3.6 0zM459.58 111.33a1.8 1.8 0 1 0 3.6 0a1.8 1.8 0 1 0 -3.6 0zM461.9 111.27a1.8 1.8 0 1 0 3.6 0a1.8 1.8 0 1 0 -3.6 0zM464.21 111.22a1.8 1.8 0 1 0 3.6 0a1.8 1.8 0 1 0 -3.6 0zM466.53 111.16a1.8 1.8 0 1 0 3.6 0a1.8 1.8 0 1 0 -3.6 0zM468.84 111.11a1.8 1.8 0 1 0 3.6 0a1.8 1.8 0 1 0 -3.6 0zM471.15 111.05a1.8 1.8 0 1 0 3.6 0a1.8 1.8 0 1 0 -3.6 0zM473.47 111a1.8 1.8 0 1 0 3.6 0a1.8 1.8 0 1 0 -3.6 0zM475.78 110.94a1.8 1.8 0 1 0 3.6 0a1.8 1.8 0 1 0 -3.6 0zM478.1 110.89a1.8 1.8 0 1 0 3.6 0a1.8 1.8 0 1 0 -3.6 0zM480.41 110.83a1.8 1.8 0 1 0 3.6 0a1.8 1.8 0 1 0 -3.6 0zM482.72 110.78a1.8 1.8 0 1 0 3.6 0a1.8 1.8 0 1 0 -3.6 0zM485.04 110.72a1.8 1.8 0 1 0 3.6 0a1.8 1.8 0 1 0 -3.6 0zM487.35 110.67a1.8 1.8 0 1 0 3.6 0a1.8 1.8 0 1 0 -3.6 0zM489.67 110.61a1.8 1.8 0 1 0 3.6 0a1.8 1.8 0 1 0 -3.6 0zM491.98 110.56a1.8 1.8 0 1 0 3.6 0a1.8 1.8 0 1 0 -3.6 0zM494.29 110.5a1.8 1.8 0 1 0 3.6 0a1.8 1.8 0 1 0 -3.6 0zM496.61 110.45a1.8 1.8 0 1 0 3.6 0a1.8 1.8 0 1 0 -3.6 0zM498.92 110.39a1.8 1.8 0 1 0 3.6 0a1.8 1.8 0 1 0 -3.6 0zM501.24 110.34a1.8 1.8 0 1 0 3.6 0a1.8 1.8 0 1 0 -3.6 0zM503.55 110.28a1.8 1.8 0 1 0 3.6 0a1.8 1.8 0 1 0 -3.6 0zM505.86 110.23a1.8 1.8 0 1 0 3.6 0a1.8 1.8 0 1 0 -3.6 0zM508.18 110.17a1.8 1.8 0 1 0 3.6 0a1.8 1.8 0 1 0 -3.6 0zM510.49 110.12a1.8 1.8 0 1 0 3.6 0a1.8 1.8 0 1 0 -3.6 0zM512.81 110.06a1.8 1.8 0 1 0 3.6 0a1.8 1.8 0 1 0 -3.6 0zM515.12 110.01a1.8 1.8 0 1 0 3.6 0a1.8 1.8 0 1 0 -3.6 0zM517.43 109.95a1.8 1.8 0 1 0 3.6 0a1.8 1.8 0 1 0 -3.6 0zM519.75 109.9a1.8 1.8 0 1 0 3.6 0a1.8 1.8 0 1 0 -3.6 0zM522.06 109.85a1.8 1.8 0 1 0 3.6 0a1.8 1.8 0 1 0 -3.6 0zM524.38 109.79a1.8 1.8 0 1 0 3.6 0a1.8 1.8 0 1 0 -3.6 0zM526.69 109.74a1.8 1.8 0 1 0 3.6 0a1.8 1.8 0 1 0 -3.6 0zM529 109.68a1.8 1.8 0 1 0 3.6 0a1.8 1.8 0 1 0 -3.6 0zM531.32 109.63a1.8 1.8 0 1 0 3.6 0a1.8 1.8 0 1 0 -3.6 0zM533.63 109.57a1.8 1.8 0 1 0 3.6 0a1.8 1.8 0 1 0 -3.6 0zM535.95 109.52a1.8 1.8 0 1 0 3.6 0a1.8 1.8 0 1 0 -3.6 0zM538.26 109.46a1.8 1.8 0 1 0 3.6 0a1.8 1.8 0 1 0 -3.6 0zM540.57 109.4a1.8 1.8 0 1 0 3.6 0a1.8 1.8 0 1 0 -3.6 0zM542.89 109.35a1.8 1.8 0 1 0 3.6 0a1.8 1.8 0 1 0 -3.6 0zM545.2 109.29a1.8 1.8 0 1 0 3.6 0a1.8 1.8 0 1 0 -3.6 0zM547.52 109.23a1.8 1.8 0 1 0 3.6 0a1.8 1.8 0 1 0 -3.6 0zM549.83 109.17a1.8 1.8 0 1 0 3.6 0a1.8 1.8 0 1 0 -3.6 0zM552.14 109.1a1.8 1.8 0 1 0 3.6 0a1.8 1.8 0 1 0 -3.6 0zM554.46 109.02a1.8 1.8 0 1 0 3.6 0a1.8 1.8 0 1 0 -3.6 0zM556.77 108.92a1.8 1.8 0 1 0 3.6 0a1.8 1.8 0 1 0 -3.6 0zM559.09 108.79a1.8 1.8 0 1 0 3.6 0a1.8 1.8 0 1 0 -3.6 0zM561.4 108.59a1.8 1.8 0 1 0 3.6 0a1.8 1.8 0 1 0 -3.6 0zM563.71 108.29a1.8 1.8 0 1 0 3.6 0a1.8 1.8 0 1 0 -3.6 0zM566.03 107.8a1.8 1.8 0 1 0 3.6 0a1.8 1.8 0 1 0 -3.6 0zM568.34 106.97a1.8 1.8 0 1 0 3.6 0a1.8 1.8 0 1 0 -3.6 0zM570.66 105.55a1.8 1.8 0 1 0 3.6 0a1.8 1.8 0 1 0 -3.6 0zM572.97 103.07a1.8 1.8 0 1 0 3.6 0a1.8 1.8 0 1 0 -3.6 0zM575.28 98.73a1.8 1.8 0 1 0 3.6 0a1.8 1.8 0 1 0 -3.6 0zM577.6 91.12a1.8 1.8 0 1 0 3.6 0a1.8 1.8 0 1 0 -3.6 0zM579.91 77.82a1.8 1.8 0 1 0 3.6 0a1.8 1.8 0 1 0 -3.6 0zM582.23 54.7a1.8 1.8 0 1 0 3.6 0a1.8 1.8 0 1 0 -3.6 0zM584.54 15.03a1.8 1.8 0 1 0 3.6 0a1.8 1.8 0 1 0 -3.6 0z" fill="#ff2a2a"/>
<path d="M447.4 125.05 L447.92 125.03 L448.42 125 L448.91 124.98 L449.41 124.95 L449.91 124.93 L450.41 124.9 L450.91 124.88 L451.41 124.85 L451.91 124.83 L452.41 124.8 L452.9 124.78 L453.4 124.75 L453.9 124.73 L454.4 124.7 L454.9 124.68 L455.4 124.65 L455.9 124.63 L456.4 124.6 L456.89 124.58 L457.39 124.55 L457.89 124.53 L458.39 124.5 L458.89 124.48 L459.39 124.45 L459.89 124.43 L460.39 124.4 L460.89 124.38 L461.38 124.35 L461.88 124.33 L462.38 124.3 L462.9 124.28 L463.4 124.25 L463.9 124.23 L464.4 124.2 L464.89 124.18 L465.39 124.15 L465.89 124.13 L466.39 124.1 L466.89 124.08 L467.39 124.05 L467.89 124.03 L468.39 124 L468.88 123.98 L469.38 123.95 L469.88 123.93 L470.38 123.9 L470.88 123.88 L471.38 123.86 L471.88 123.83 L472.38 123.81 L472.87 123.78 L473.37 123.76 L473.87 123.73 L474.37 123.71 L474.87 123.68 L475.37 123.66 L475.87 123.63 L476.37 123.61 L476.86 123.58 L477.36 123.56 L477.88 123.53 L478.38 123.51 L478.88 123.48 L479.38 123.46 L479.88 123.43 L480.37 123.41 L480.87 123.38 L481.37 123.36 L481.87 123.33 L482.37 123.31 L482.87 123.28 L483.37 123.26 L483.87 123.23 L484.36 123.21 L484.86 123.18 L485.36 123.16 L485.86 123.13 L486.36 123.11 L486.86 123.08 L487.36 123.06 L487.86 123.03 L488.35 123.01 L488.85 122.98 L489.35 122.96 L489.85 122.93 L490.35 122.91 L490.85 122.88 L491.35 122.86 L491.85 122.83 L492.34 122.81 L492.84 122.78 L493.36 122.76 L493.86 122.73 L494.36 122.71 L494.86 122.68 L495.36 122.66 L495.85 122.63 L496.35 122.61 L496.85 122.58 L497.35 122.56 L497.85 122.53 L498.35 122.51 L498.85 122.48 L499.35 122.46 L499.84 122.44 L500.34 122.41 L500.84 122.39 L501.34 122.36 L501.84 122.34 L502.34 122.31 L502.84 122.29 L503.34 122.26 L503.84 122.24 L504.33 122.21 L504.83 122.19 L505.33 122.16 L505.83 122.14 L506.33 122.11 L506.83 122.09 L507.33 122.06 L507.83 122.04 L508.34 122.01 L508.84 121.99 L509.34 121.96 L509.84 121.94 L510.34 121.91 L510.84 121.89 L511.34 121.86 L511.83 121.84 L512.33 121.81 L512.83 121.79 L513.33 121.76 L513.83 121.74 L514.33 121.71 L514.83 121.69 L515.33 121.66 L515.82 121.64 L516.32 121.61 L516.82 121.59 L517.32 121.56 L517.82 121.54 L518.32 121.51 L518.82 121.49 L519.32 121.46 L519.81 121.44 L520.31 121.41 L520.81 121.39 L521.31 121.36 L521.81 121.34 L522.31 121.31 L522.81 121.29 L523.31 121.26 L523.82 121.24 L524.32 121.21 L524.82 121.19 L525.32 121.16 L525.82 121.14 L526.32 121.11 L526.82 121.09 L527.31 121.06 L527.81 121.04 L528.31 121.01 L528.81 120.99 L529.31 120.97 L529.81 120.94 L530.31 120.92 L530.81 120.89 L531.3 120.87 L531.8 120.84 L532.3 120.82 L532.8 120.79 L533.3 120.77 L533.8 120.74 L534.3 120.72 L534.8 120.69 L535.29 120.67 L535.79 120.64 L536.29 120.62 L536.79 120.59 L537.29 120.57 L537.79 120.54 L538.29 120.52 L538.8 120.49 L539.3 120.47 L539.8 120.44 L540.3 120.42 L540.8 120.39 L541.3 120.37 L541.8 120.34 L542.3 120.32 L542.79 120.29 L543.29 120.27 L543.79 120.24 L544.29 120.22 L544.79 120.19 L545.29 120.17 L545.79 120.14 L546.29 120.12 L546.78 120.09 L547.28 120.07 L547.78 120.04 L548.28 120.02 L548.78 119.99 L549.28 119.97 L549.78 119.94 L550.28 119.92 L550.78 119.89 L551.27 119.87 L551.77 119.84 L552.27 119.82 L552.77 119.79 L553.27 119.77 L553.77 119.74 L554.29 119.71 L554.78 119.69 L555.28 119.66 L555.78 119.64 L556.28 119.61 L556.78 119.58 L557.28 119.56 L557.78 119.53 L558.28 119.51 L558.77 119.48 L559.27 119.45 L559.77 119.42 L560.27 119.39 L560.77 119.36 L561.27 119.34 L561.77 119.31 L562.27 119.27 L562.76 119.24 L563.26 119.21 L563.76 119.17 L564.26 119.14 L564.76 119.1 L565.26 119.06 L565.76 119.02 L566.26 118.98 L566.75 118.93 L567.25 118.88 L567.75 118.82 L568.23 118.77 L568.73 118.7 L569.23 118.63 L569.73 118.56 L570.23 118.47 L570.71 118.38 L571.21 118.28 L571.69 118.17 L572.17 118.04 L572.65 117.91 L573.13 117.75 L573.59 117.58 L574.07 117.39 L574.51 117.19 L574.96 116.96 L575.4 116.71 L575.83 116.43 L576.23 116.14 L576.62 115.83 L576.99 115.51 L577.36 115.15 L577.69 114.8 L578.03 114.41 L578.32 114.03 L578.62 113.62 L578.9 113.21 L579.17 112.76 L579.41 112.35 L579.65 111.91 L579.88 111.47 L580.1 111.01 L580.3 110.56 L580.51 110.08 L580.69 109.62 L580.88 109.14 L581.04 108.68 L581.21 108.21 L581.38 107.71 L581.52 107.24 L581.67 106.76 L581.8 106.32 L581.95 105.79 L582.08 105.32 L582.21 104.83 L582.32 104.39 L582.45 103.86 L582.56 103.39 L582.67 102.91 L582.78 102.41 L582.9 101.9 L582.99 101.46 L583.1 100.92 L583.19 100.45 L583.29 99.97 L583.38 99.48 L583.47 98.98 L583.56 98.46 L583.66 97.93 L583.73 97.5 L583.82 96.94 L583.9 96.49 L583.97 96.02 L584.05 95.55 L584.12 95.06 L584.2 94.57 L584.27 94.06 L584.34 93.55 L584.42 93.02 L584.49 92.48 L584.55 92.07 L584.62 91.51 L584.68 91.09 L584.75 90.51 L584.81 90.07 L584.87 89.62 L584.94 89.01 L585 88.54 L585.05 88.07 L585.11 87.59 L585.16 87.1 L585.22 86.61 L585.27 86.1 L585.33 85.59 L585.39 85.07 L585.44 84.55 L585.5 84.01 L585.54 83.65 L585.59 83.1 L585.65 82.54 L585.68 82.16 L585.74 81.59 L585.8 81.01 L585.83 80.61 L585.89 80.01 L585.93 79.61 L585.98 79 L586.02 78.58 L586.06 78.16 L586.11 77.53 L586.15 77.1 L586.19 76.66 L586.24 76 L586.28 75.56 L586.32 75.11 L586.36 74.65 L586.39 74.19 L586.45 73.49 L586.49 73.02 L586.52 72.54 L586.56 72.06 L586.6 71.57 L586.64 71.08 L586.67 70.58 L586.71 70.08 L586.75 69.57 L586.79 69.06 L586.82 68.54 L586.86 68.01 L586.9 67.48 L586.92 67.22 L586.95 66.68 L586.99 66.13 L587.03 65.58 L587.07 65.03 L587.1 64.47 L587.12 64.18 L587.16 63.61 L587.2 63.04 L587.24 62.46 L587.25 62.16 L587.29 61.57 L587.33 60.97 L587.35 60.67 L587.39 60.07 L587.42 59.45 L587.44 59.14 L587.48 58.52 L587.5 58.21 L587.54 57.57 L587.57 56.93 L587.59 56.61 L587.63 55.96 L587.65 55.63 L587.69 54.97 L587.7 54.64 L587.74 53.97 L587.76 53.63 L587.8 52.95 L587.82 52.61 L587.85 51.92 L587.87 51.57 L587.89 51.22 L587.93 50.51 L587.95 50.16 L587.99 49.44 L588.01 49.08 L588.02 48.71 L588.06 47.98 L588.08 47.61 L588.1 47.24 L588.14 46.49 L588.16 46.12 L588.17 45.74 L588.21 44.97 L588.23 44.59 L588.25 44.2 L588.29 43.42 L588.31 43.03 L588.33 42.63 L588.34 42.23 L588.38 41.43 L588.4 41.03 L588.42 40.62 L588.44 40.22 L588.48 39.39 L588.49 38.98 L588.51 38.56 L588.53 38.14 L588.55 37.72 L588.59 36.88 L588.61 36.45 L588.63 36.02 L588.65 35.59 L588.66 35.15 L588.68 34.72 L588.72 33.84 L588.74 33.39 L588.76 32.95 L588.78 32.5 L588.8 32.05 L588.82 31.6 L588.83 31.14 L588.85 30.68 L588.87 30.22 L588.89 29.76 L588.93 28.83 L588.95 28.36 L588.97 27.89 L588.99 27.41 L589 26.93 L589.02 26.45 L589.04 25.97 L589.06 25.49 L589.08 25 L589.1 24.51 L589.12 24.02 L589.14 23.52 L589.16 23.03 L589.17 22.53 L589.19 22.02 L589.21 21.52 L589.23 21.01 L589.25 20.5 L589.27 19.98 L589.29 19.47 L589.31 18.95 L589.33 18.43 L589.35 17.9 L589.36 17.38 L589.38 16.85 L589.4 16.31 L589.42 15.78 L589.42 15.78 L589.44 15.24 L589.46 14.7 L589.48 14.16 L589.5 13.61 L589.5 13.5" fill="none" stroke="#1f6fe8" stroke-width="1.1" stroke-linejoin="round"/>
<path d="M447.5 122.99L449.6 126.59L445.4 126.59zM449.81 122.88L451.91 126.47L447.71 126.47zM452.13 122.76L454.23 126.35L450.03 126.35zM454.44 122.65L456.54 126.24L452.34 126.24zM456.76 122.53L458.86 126.12L454.66 126.12zM459.07 122.42L461.17 126.01L456.97 126.01zM461.38 122.3L463.48 125.89L459.28 125.89zM463.7 122.19L465.8 125.78L461.6 125.78zM466.01 122.07L468.11 125.66L463.91 125.66zM468.33 121.96L470.43 125.55L466.23 125.55zM470.64 121.84L472.74 125.43L468.54 125.43zM472.95 121.72L475.05 125.32L470.85 125.32zM475.27 121.61L477.37 125.2L473.17 125.2zM477.58 121.49L479.68 125.08L475.48 125.08zM479.9 121.38L482 124.97L477.8 124.97zM482.21 121.26L484.31 124.85L480.11 124.85zM484.52 121.15L486.62 124.74L482.42 124.74zM486.84 121.03L488.94 124.62L484.74 124.62zM489.15 120.92L491.25 124.51L487.05 124.51zM491.47 120.8L493.57 124.39L489.37 124.39zM493.78 120.69L495.88 124.28L491.68 124.28zM496.09 120.57L498.19 124.16L493.99 124.16zM498.41 120.45L500.51 124.05L496.31 124.05zM500.72 120.34L502.82 123.93L498.62 123.93zM503.04 120.22L505.14 123.81L500.94 123.81zM505.35 120.11L507.45 123.7L503.25 123.7zM507.66 119.99L509.76 123.58L505.56 123.58zM509.98 119.88L512.08 123.47L507.88 123.47zM512.29 119.76L514.39 123.35L510.19 123.35zM514.61 119.65L516.71 123.24L512.51 123.24zM516.92 119.53L519.02 123.12L514.82 123.12zM519.23 119.42L521.33 123.01L517.13 123.01zM521.55 119.3L523.65 122.89L519.45 122.89zM523.86 119.18L525.96 122.78L521.76 122.78zM526.18 119.07L528.28 122.66L524.08 122.66zM528.49 118.95L530.59 122.55L526.39 122.55zM530.8 118.84L532.9 122.43L528.7 122.43zM533.12 118.72L535.22 122.31L531.02 122.31zM535.43 118.61L537.53 122.2L533.33 122.2zM537.75 118.49L539.85 122.08L535.65 122.08zM540.06 118.38L542.16 121.97L537.96 121.97zM542.37 118.26L544.47 121.85L540.27 121.85zM544.69 118.15L546.79 121.74L542.59 121.74zM547 118.03L549.1 121.62L544.9 121.62zM549.32 117.91L551.42 121.5L547.22 121.5zM551.63 117.8L553.73 121.39L549.53 121.39zM553.94 117.68L556.04 121.27L551.84 121.27zM556.26 117.56L558.36 121.15L554.16 121.15zM558.57 117.44L560.67 121.03L556.47 121.03zM560.89 117.31L562.99 120.9L558.79 120.9zM563.2 117.16L565.3 120.75L561.1 120.75zM565.51 116.99L567.61 120.58L563.41 120.58zM567.83 116.76L569.93 120.35L565.73 120.35zM570.14 116.44L572.24 120.03L568.04 120.03zM572.46 115.91L574.56 119.5L570.36 119.5zM574.77 115.01L576.87 118.6L572.67 118.6zM577.08 113.37L579.18 116.96L574.98 116.96zM579.4 110.33L581.5 113.92L577.3 113.92zM581.71 104.57L583.81 108.16L579.61 108.16zM584.03 93.63L586.13 97.22L581.93 97.22zM586.34 72.8L588.44 76.39L584.24 76.39zM588.65 33.34L590.75 36.93L586.55 36.93z" fill="#1f6fe8"/>
<path d="M447.5 129.15 L448 129.13 L448.51 129.11 L449.01 129.08 L449.52 129.06 L450 129.04 L450.5 129.01 L451.01 128.99 L451.51 128.96 L452 128.94 L452.5 128.92 L453.01 128.89 L453.51 128.87 L453.99 128.85 L454.5 128.82 L455 128.8 L455.51 128.77 L455.99 128.75 L456.5 128.73 L457 128.7 L457.5 128.68 L457.99 128.66 L458.49 128.63 L459 128.61 L459.5 128.58 L459.99 128.56 L460.49 128.54 L460.99 128.51 L461.5 128.49 L462 128.46 L462.49 128.44 L462.99 128.42 L463.5 128.39 L464 128.37 L464.48 128.35 L464.99 128.32 L465.49 128.3 L466 128.27 L466.48 128.25 L466.99 128.23 L467.49 128.2 L467.99 128.18 L468.48 128.16 L468.98 128.13 L469.49 128.11 L469.99 128.08 L470.48 128.06 L470.98 128.04 L471.48 128.01 L471.99 127.99 L472.47 127.97 L472.98 127.94 L473.48 127.92 L473.98 127.89 L474.47 127.87 L474.97 127.85 L475.48 127.82 L475.98 127.8 L476.49 127.78 L476.97 127.75 L477.47 127.73 L477.98 127.7 L478.48 127.68 L478.97 127.66 L479.47 127.63 L479.98 127.61 L480.48 127.58 L480.96 127.56 L481.47 127.54 L481.97 127.51 L482.48 127.49 L482.96 127.47 L483.47 127.44 L483.97 127.42 L484.47 127.39 L484.96 127.37 L485.46 127.35 L485.97 127.32 L486.47 127.3 L486.96 127.28 L487.46 127.25 L487.96 127.23 L488.47 127.2 L488.95 127.18 L489.46 127.16 L489.96 127.13 L490.47 127.11 L490.97 127.09 L491.45 127.06 L491.96 127.04 L492.46 127.01 L492.97 126.99 L493.45 126.97 L493.96 126.94 L494.46 126.92 L494.96 126.9 L495.45 126.87 L495.95 126.85 L496.46 126.82 L496.96 126.8 L497.45 126.78 L497.95 126.75 L498.45 126.73 L498.96 126.71 L499.44 126.68 L499.95 126.66 L500.45 126.63 L500.95 126.61 L501.44 126.59 L501.94 126.56 L502.45 126.54 L502.95 126.52 L503.44 126.49 L503.94 126.47 L504.44 126.44 L504.95 126.42 L505.45 126.4 L505.94 126.37 L506.44 126.35 L506.95 126.33 L507.45 126.3 L507.93 126.28 L508.44 126.25 L508.94 126.23 L509.45 126.21 L509.93 126.18 L510.44 126.16 L510.94 126.14 L511.44 126.11 L511.93 126.09 L512.43 126.06 L512.94 126.04 L513.44 126.02 L513.93 125.99 L514.43 125.97 L514.93 125.94 L515.44 125.92 L515.92 125.9 L516.43 125.87 L516.93 125.85 L517.44 125.83 L517.92 125.8 L518.42 125.78 L518.93 125.75 L519.43 125.73 L519.94 125.71 L520.42 125.68 L520.93 125.66 L521.43 125.64 L521.93 125.61 L522.42 125.59 L522.92 125.56 L523.43 125.54 L523.93 125.52 L524.42 125.49 L524.92 125.47 L525.42 125.45 L525.93 125.42 L526.41 125.4 L526.92 125.37 L527.42 125.35 L527.92 125.33 L528.41 125.3 L528.91 125.28 L529.42 125.26 L529.92 125.23 L530.41 125.21 L530.91 125.18 L531.41 125.16 L531.92 125.14 L532.4 125.11 L532.91 125.09 L533.41 125.07 L533.92 125.04 L534.42 125.02 L534.9 124.99 L535.41 124.97 L535.91 124.95 L536.42 124.92 L536.9 124.9 L537.41 124.88 L537.91 124.85 L538.41 124.83 L538.9 124.8 L539.4 124.78 L539.91 124.76 L540.41 124.73 L540.9 124.71 L541.4 124.69 L541.9 124.66 L542.41 124.64 L542.89 124.61 L543.4 124.59 L543.9 124.57 L544.41 124.54 L544.89 124.52 L545.39 124.49 L545.9 124.47 L546.4 124.45 L546.89 124.42 L547.39 124.4 L547.9 124.38 L548.4 124.35 L548.9 124.33 L549.39 124.3 L549.89 124.28 L550.4 124.26 L550.9 124.23 L551.39 124.21 L551.89 124.18 L552.39 124.16 L552.9 124.14 L553.38 124.11 L553.89 124.09 L554.39 124.06 L554.89 124.04 L555.38 124.02 L555.88 123.99 L556.39 123.97 L556.89 123.94 L557.38 123.92 L557.88 123.89 L558.38 123.87 L558.89 123.84 L559.37 123.82 L559.88 123.79 L560.38 123.76 L560.89 123.74 L561.37 123.71 L561.87 123.68 L562.38 123.65 L562.88 123.62 L563.37 123.59 L563.87 123.56 L564.38 123.53 L564.88 123.5 L565.37 123.47 L565.87 123.43 L566.37 123.39 L566.86 123.35 L567.36 123.31 L567.87 123.27 L568.37 123.22 L568.86 123.17 L569.36 123.11 L569.84 123.05 L570.35 122.99 L570.83 122.92 L571.34 122.84 L571.82 122.75 L572.33 122.66 L572.81 122.55 L573.3 122.43 L573.78 122.3 L574.25 122.16 L574.73 122 L575.2 121.82 L575.67 121.62 L576.12 121.41 L576.55 121.18 L576.97 120.92 L577.4 120.64 L577.8 120.35 L578.19 120.02 L578.56 119.68 L578.92 119.33 L579.25 118.96 L579.57 118.57 L579.87 118.18 L580.17 117.76 L580.43 117.36 L580.69 116.93 L580.93 116.5 L581.17 116.04 L581.4 115.59 L581.6 115.15 L581.81 114.69 L582 114.24 L582.18 113.77 L582.37 113.28 L582.54 112.81 L582.7 112.32 L582.85 111.87 L583 111.4 L583.15 110.9 L583.28 110.46 L583.43 109.92 L583.56 109.44 L583.67 109.01 L583.81 108.49 L583.92 108.03 L584.03 107.55 L584.14 107.06 L584.25 106.56 L584.37 106.04 L584.46 105.59 L584.57 105.04 L584.66 104.57 L584.76 104.08 L584.85 103.58 L584.94 103.07 L585.02 102.65 L585.11 102.11 L585.21 101.56 L585.28 101.11 L585.35 100.65 L585.43 100.18 L585.52 99.58 L585.6 99.09 L585.67 98.58 L585.73 98.2 L585.8 97.68 L585.88 97.14 L585.95 96.6 L586.01 96.18 L586.08 95.62 L586.14 95.19 L586.21 94.6 L586.27 94.15 L586.33 93.7 L586.38 93.24 L586.46 92.61 L586.51 92.13 L586.57 91.65 L586.62 91.15 L586.68 90.65 L586.74 90.14 L586.79 89.62 L586.83 89.27 L586.89 88.74 L586.94 88.2 L587 87.65 L587.03 87.28 L587.09 86.72 L587.15 86.15 L587.18 85.76 L587.24 85.17 L587.28 84.78 L587.33 84.17 L587.37 83.77 L587.43 83.15 L587.46 82.73 L587.5 82.31 L587.56 81.67 L587.59 81.23 L587.63 80.79 L587.69 80.13 L587.73 79.68 L587.76 79.22 L587.8 78.76 L587.84 78.3 L587.89 77.6 L587.93 77.12 L587.97 76.64 L588 76.15 L588.04 75.66 L588.08 75.16 L588.12 74.66 L588.15 74.15 L588.19 73.64 L588.23 73.12 L588.27 72.6 L588.28 72.33 L588.32 71.8 L588.36 71.26 L588.4 70.72 L588.43 70.17 L588.47 69.62 L588.49 69.34 L588.53 68.77 L588.56 68.21 L588.6 67.63 L588.62 67.34 L588.66 66.76 L588.7 66.16 L588.73 65.57 L588.75 65.27 L588.79 64.66 L588.81 64.35 L588.84 63.74 L588.88 63.12 L588.9 62.8 L588.94 62.17 L588.96 61.85 L588.99 61.21 L589.03 60.56 L589.05 60.23 L589.09 59.57 L589.11 59.24 L589.14 58.57 L589.16 58.23 L589.2 57.55 L589.22 57.21 L589.24 56.86 L589.27 56.17 L589.29 55.82 L589.33 55.11 L589.35 54.76 L589.39 54.04 L589.4 53.68 L589.42 53.31 L589.46 52.58 L589.48 52.21 L589.5 51.84 L589.54 51.09 L589.55 50.72 L589.57 50.34 L589.61 49.57 L589.63 49.19 L589.65 48.8 L589.68 48.02 L589.7 47.63 L589.72 47.23 L589.74 46.84 L589.78 46.03 L589.8 45.63 L589.82 45.22 L589.83 44.82 L589.87 43.99 L589.89 43.58 L589.91 43.16 L589.93 42.74 L589.95 42.32 L589.98 41.48 L590 41.05 L590.02 40.62 L590.04 40.19 L590.06 39.75 L590.08 39.31 L590.1 38.88 L590.13 37.99 L590.15 37.54 L590.17 37.1 L590.19 36.65 L590.21 36.19 L590.23 35.74 L590.24 35.28 L590.26 34.82 L590.28 34.36 L590.3 33.89 L590.34 32.95 L590.36 32.48 L590.38 32.01 L590.39 31.53 L590.41 31.05 L590.43 30.57 L590.45 30.08 L590.47 29.59 L590.49 29.1 L590.51 28.61 L590.52 28.12 L590.54 27.62 L590.56 27.12 L590.58 26.61 L590.6 26.11 L590.62 25.6 L590.64 25.09 L590.66 24.57 L590.67 24.06 L590.69 23.54 L590.71 23.02 L590.73 22.49 L590.75 21.96 L590.77 21.43 L590.79 20.9 L590.79 20.9 L590.8 20.36 L590.82 19.83 L590.84 19.28 L590.86 18.74 L590.88 18.19 L590.9 17.64 L590.92 17.09 L590.94 16.53 L590.95 15.97 L590.97 15.41 L590.99 14.85 L590.99 14.85 L591.01 14.28 L591.03 13.71 L591.04 13.5" fill="none" stroke="#23a455" stroke-width="1.1" stroke-linejoin="round"/>
<path d="M447.5 131.21L449.6 127.62L445.4 127.62zM449.81 131.1L451.91 127.51L447.71 127.51zM452.13 130.99L454.23 127.4L450.03 127.4zM454.44 130.88L456.54 127.29L452.34 127.29zM456.76 130.77L458.86 127.18L454.66 127.18zM459.07 130.66L461.17 127.06L456.97 127.06zM461.38 130.55L463.48 126.95L459.28 126.95zM463.7 130.44L465.8 126.84L461.6 126.84zM466.01 130.33L468.11 126.73L463.91 126.73zM468.33 130.22L470.43 126.62L466.23 126.62zM470.64 130.11L472.74 126.51L468.54 126.51zM472.95 130L475.05 126.4L470.85 126.4zM475.27 129.88L477.37 126.29L473.17 126.29zM477.58 129.77L479.68 126.18L475.48 126.18zM479.9 129.66L482 126.07L477.8 126.07zM482.21 129.55L484.31 125.96L480.11 125.96zM484.52 129.44L486.62 125.85L482.42 125.85zM486.84 129.33L488.94 125.74L484.74 125.74zM489.15 129.22L491.25 125.63L487.05 125.63zM491.47 129.11L493.57 125.52L489.37 125.52zM493.78 129L495.88 125.41L491.68 125.41zM496.09 128.89L498.19 125.3L493.99 125.3zM498.41 128.78L500.51 125.19L496.31 125.19zM500.72 128.67L502.82 125.08L498.62 125.08zM503.04 128.56L505.14 124.97L500.94 124.97zM505.35 128.45L507.45 124.86L503.25 124.86zM507.66 128.34L509.76 124.75L505.56 124.75zM509.98 128.23L512.08 124.64L507.88 124.64zM512.29 128.12L514.39 124.53L510.19 124.53zM514.61 128.01L516.71 124.42L512.51 124.42zM516.92 127.9L519.02 124.31L514.82 124.31zM519.23 127.79L521.33 124.2L517.13 124.2zM521.55 127.68L523.65 124.09L519.45 124.09zM523.86 127.57L525.96 123.98L521.76 123.98zM526.18 127.46L528.28 123.87L524.08 123.87zM528.49 127.35L530.59 123.76L526.39 123.76zM530.8 127.24L532.9 123.65L528.7 123.65zM533.12 127.13L535.22 123.54L531.02 123.54zM535.43 127.02L537.53 123.43L533.33 123.43zM537.75 126.91L539.85 123.32L535.65 123.32zM540.06 126.8L542.16 123.21L537.96 123.21zM542.37 126.69L544.47 123.1L540.27 123.1zM544.69 126.58L546.79 122.99L542.59 122.99zM547 126.47L549.1 122.88L544.9 122.88zM549.32 126.36L551.42 122.77L547.22 122.77zM551.63 126.25L553.73 122.66L549.53 122.66zM553.94 126.14L556.04 122.55L551.84 122.55zM556.26 126.02L558.36 122.43L554.16 122.43zM558.57 125.91L560.67 122.32L556.47 122.32zM560.89 125.79L562.99 122.2L558.79 122.2zM563.2 125.66L565.3 122.07L561.1 122.07zM565.51 125.51L567.61 121.92L563.41 121.92zM567.83 125.32L569.93 121.73L565.73 121.73zM570.14 125.07L572.24 121.48L568.04 121.48zM572.46 124.68L574.56 121.09L570.36 121.09zM574.77 124.04L576.87 120.45L572.67 120.45zM577.08 122.91L579.18 119.32L574.98 119.32zM579.4 120.84L581.5 117.24L577.3 117.24zM581.71 116.96L583.81 113.37L579.61 113.37zM584.03 109.62L586.13 106.03L581.93 106.03zM586.34 95.63L588.44 92.04L584.24 92.04zM588.65 68.87L590.75 65.28L586.55 65.28zM590.97 17.61L593.07 14.02L588.87 14.02z" fill="#23a455"/>
<path d="M452.9 20.5H471.5" stroke="#3a3a3a" stroke-width="1.1"/>
<path d="M460.55 18.85h3.3v3.3h-3.3z" fill="#3a3a3a"/>
<text x="473.9" y="23.2" font-size="7.5" text-anchor="start">100nm</text>
<path d="M452.9 30.3H471.5" stroke="#ff2a2a" stroke-width="1.1"/>
<path d="M460.55 30.3a1.65 1.65 0 1 0 3.3 0a1.65 1.65 0 1 0 -3.3 0z" fill="#ff2a2a"/>
<text x="473.9" y="33" font-size="7.5" text-anchor="start">400nm</text>
<path d="M452.9 40.4H471.5" stroke="#1f6fe8" stroke-width="1.1"/>
<path d="M462.2 38.52L464.15 41.81L460.25 41.81z" fill="#1f6fe8"/>
<text x="473.9" y="43.1" font-size="7.5" text-anchor="start">700nm</text>
<path d="M452.9 50.3H471.5" stroke="#23a455" stroke-width="1.1"/>
<path d="M462.2 52.18L464.15 48.89L460.25 48.89z" fill="#23a455"/>
<text x="473.9" y="53" font-size="7.5" text-anchor="start">1000nm</text>
<text x="523" y="155.5" font-size="12" text-anchor="middle">V(V)</text>
<text transform="translate(430.6 73.5) rotate(-90)" font-size="10.4" text-anchor="middle" textLength="107" lengthAdjust="spacingAndGlyphs">Current density(mA/cm<tspan font-size="7" dy="-3.4">2</tspan><tspan dy="3.4">)</tspan></text>
<text x="413.6" y="11.6" font-size="13.5" text-anchor="start">(e)</text>
<path d="M448.2 191H594.8V307.3H448.2Z" fill="none" stroke="#888888" stroke-width="1.3"/>
<path d="M448.2 307.3h2.5M448.2 284.04h2.5M448.2 260.78h2.5M448.2 237.52h2.5M448.2 214.26h2.5M448.2 191h2.5M448.2 295.67h1.5M448.2 272.41h1.5M448.2 249.15h1.5M448.2 225.89h1.5M448.2 202.63h1.5" stroke="#888888" stroke-width="1" fill="none"/>
<text transform="translate(445.5 310.4) scale(0.86 1)" font-size="8.8" text-anchor="end">0</text>
<text transform="translate(445.5 287.14) scale(0.86 1)" font-size="8.8" text-anchor="end">20</text>
<text transform="translate(445.5 263.88) scale(0.86 1)" font-size="8.8" text-anchor="end">40</text>
<text transform="translate(445.5 240.62) scale(0.86 1)" font-size="8.8" text-anchor="end">60</text>
<text transform="translate(445.5 217.36) scale(0.86 1)" font-size="8.8" text-anchor="end">80</text>
<text transform="translate(445.5 194.1) scale(0.86 1)" font-size="8.8" text-anchor="end">100</text>
<path d="M448.2 307.3v-2.5M477.5 307.3v-2.5M506.8 307.3v-2.5M536.1 307.3v-2.5M565.4 307.3v-2.5M594.7 307.3v-2.5M462.85 307.3v-1.5M492.15 307.3v-1.5M521.45 307.3v-1.5M550.75 307.3v-1.5M580.05 307.3v-1.5" stroke="#888888" stroke-width="1" fill="none"/>
<text transform="translate(448.2 316.7) scale(0.86 1)" font-size="8.8" text-anchor="middle">300</text>
<text transform="translate(477.5 316.7) scale(0.86 1)" font-size="8.8" text-anchor="middle">400</text>
<text transform="translate(506.8 316.7) scale(0.86 1)" font-size="8.8" text-anchor="middle">500</text>
<text transform="translate(536.1 316.7) scale(0.86 1)" font-size="8.8" text-anchor="middle">600</text>
<text transform="translate(565.4 316.7) scale(0.86 1)" font-size="8.8" text-anchor="middle">700</text>
<text transform="translate(594.7 316.7) scale(0.86 1)" font-size="8.8" text-anchor="middle">800</text>
<path d="M448.2 226.81 L451.13 228.28 L454.06 229.76 L456.99 231.23 L459.92 232.69 L462.85 234.12 L465.78 235.55 L468.71 236.96 L471.64 238.39 L474.57 239.82 L477.5 241.27 L480.43 242.72 L483.36 244.18 L486.29 245.64 L489.22 247.1 L492.15 248.57 L495.08 250.04 L498.01 251.51 L500.94 252.97 L503.87 254.38 L506.8 255.75 L509.73 257.08 L512.66 258.39 L515.59 259.7 L518.52 261.05 L521.45 262.37 L524.38 263.67 L527.31 265.03 L530.24 266.54 L533.17 268.3 L536.1 270.34 L539.03 272.56 L541.96 274.91 L544.89 277.47 L547.82 280.35 L550.75 283.64 L553.68 287.56 L556.61 292.71 L559.54 297.76 L562.47 307.3 L565.4 307.3 L568.33 307.3 L571.26 307.3 L574.19 307.3 L577.12 307.3 L580.05 307.3 L582.98 307.3 L585.91 307.3 L588.84 307.3 L591.77 307.3 L594.7 307.3" fill="none" stroke="#3a3a3a" stroke-width="1.1" stroke-linejoin="round"/>
<path d="M446.4 225.01h3.6v3.6h-3.6zM449.33 226.48h3.6v3.6h-3.6zM452.26 227.96h3.6v3.6h-3.6zM455.19 229.43h3.6v3.6h-3.6zM458.12 230.89h3.6v3.6h-3.6zM461.05 232.32h3.6v3.6h-3.6zM463.98 233.75h3.6v3.6h-3.6zM466.91 235.16h3.6v3.6h-3.6zM469.84 236.59h3.6v3.6h-3.6zM472.77 238.02h3.6v3.6h-3.6zM475.7 239.47h3.6v3.6h-3.6zM478.63 240.92h3.6v3.6h-3.6zM481.56 242.38h3.6v3.6h-3.6zM484.49 243.84h3.6v3.6h-3.6zM487.42 245.3h3.6v3.6h-3.6zM490.35 246.77h3.6v3.6h-3.6zM493.28 248.24h3.6v3.6h-3.6zM496.21 249.71h3.6v3.6h-3.6zM499.14 251.17h3.6v3.6h-3.6zM502.07 252.58h3.6v3.6h-3.6zM505 253.95h3.6v3.6h-3.6zM507.93 255.28h3.6v3.6h-3.6zM510.86 256.59h3.6v3.6h-3.6zM513.79 257.9h3.6v3.6h-3.6zM516.72 259.25h3.6v3.6h-3.6zM519.65 260.57h3.6v3.6h-3.6zM522.58 261.87h3.6v3.6h-3.6zM525.51 263.23h3.6v3.6h-3.6zM528.44 264.74h3.6v3.6h-3.6zM531.37 266.5h3.6v3.6h-3.6zM534.3 268.54h3.6v3.6h-3.6zM537.23 270.76h3.6v3.6h-3.6zM540.16 273.11h3.6v3.6h-3.6zM543.09 275.67h3.6v3.6h-3.6zM546.02 278.55h3.6v3.6h-3.6zM548.95 281.84h3.6v3.6h-3.6zM551.88 285.76h3.6v3.6h-3.6zM554.81 290.91h3.6v3.6h-3.6zM557.74 295.96h3.6v3.6h-3.6zM560.67 305.5h3.6v3.6h-3.6zM563.6 305.5h3.6v3.6h-3.6zM566.53 305.5h3.6v3.6h-3.6zM569.46 305.5h3.6v3.6h-3.6zM572.39 305.5h3.6v3.6h-3.6zM575.32 305.5h3.6v3.6h-3.6zM578.25 305.5h3.6v3.6h-3.6zM581.18 305.5h3.6v3.6h-3.6zM584.11 305.5h3.6v3.6h-3.6zM587.04 305.5h3.6v3.6h-3.6zM589.97 305.5h3.6v3.6h-3.6zM592.9 305.5h3.6v3.6h-3.6z" fill="#3a3a3a"/>
<path d="M448.2 192.05 L451.13 192.23 L454.06 192.43 L456.99 192.67 L459.92 192.92 L462.85 193.2 L465.78 193.5 L468.71 193.84 L471.64 194.21 L474.57 194.61 L477.5 195.06 L480.43 195.55 L483.36 196.09 L486.29 196.67 L489.22 197.3 L492.15 197.98 L495.08 198.73 L498.01 199.52 L500.94 200.37 L503.87 201.26 L506.8 202.17 L509.73 203.12 L512.66 204.11 L515.59 205.16 L518.52 206.3 L521.45 207.5 L524.38 208.73 L527.31 210.09 L530.24 211.7 L533.17 213.7 L536.1 216.19 L539.03 219.13 L541.96 222.52 L544.89 226.54 L547.82 231.52 L550.75 237.82 L553.68 246.27 L556.61 259.05 L559.54 273.58 L562.47 307.3 L565.4 307.3 L568.33 307.3 L571.26 307.3 L574.19 307.3 L577.12 307.3 L580.05 307.3 L582.98 307.3 L585.91 307.3 L588.84 307.3 L591.77 307.3 L594.7 307.3" fill="none" stroke="#ff2a2a" stroke-width="1.1" stroke-linejoin="round"/>
<path d="M446.4 192.05a1.8 1.8 0 1 0 3.6 0a1.8 1.8 0 1 0 -3.6 0zM449.33 192.23a1.8 1.8 0 1 0 3.6 0a1.8 1.8 0 1 0 -3.6 0zM452.26 192.43a1.8 1.8 0 1 0 3.6 0a1.8 1.8 0 1 0 -3.6 0zM455.19 192.67a1.8 1.8 0 1 0 3.6 0a1.8 1.8 0 1 0 -3.6 0zM458.12 192.92a1.8 1.8 0 1 0 3.6 0a1.8 1.8 0 1 0 -3.6 0zM461.05 193.2a1.8 1.8 0 1 0 3.6 0a1.8 1.8 0 1 0 -3.6 0zM463.98 193.5a1.8 1.8 0 1 0 3.6 0a1.8 1.8 0 1 0 -3.6 0zM466.91 193.84a1.8 1.8 0 1 0 3.6 0a1.8 1.8 0 1 0 -3.6 0zM469.84 194.21a1.8 1.8 0 1 0 3.6 0a1.8 1.8 0 1 0 -3.6 0zM472.77 194.61a1.8 1.8 0 1 0 3.6 0a1.8 1.8 0 1 0 -3.6 0zM475.7 195.06a1.8 1.8 0 1 0 3.6 0a1.8 1.8 0 1 0 -3.6 0zM478.63 195.55a1.8 1.8 0 1 0 3.6 0a1.8 1.8 0 1 0 -3.6 0zM481.56 196.09a1.8 1.8 0 1 0 3.6 0a1.8 1.8 0 1 0 -3.6 0zM484.49 196.67a1.8 1.8 0 1 0 3.6 0a1.8 1.8 0 1 0 -3.6 0zM487.42 197.3a1.8 1.8 0 1 0 3.6 0a1.8 1.8 0 1 0 -3.6 0zM490.35 197.98a1.8 1.8 0 1 0 3.6 0a1.8 1.8 0 1 0 -3.6 0zM493.28 198.73a1.8 1.8 0 1 0 3.6 0a1.8 1.8 0 1 0 -3.6 0zM496.21 199.52a1.8 1.8 0 1 0 3.6 0a1.8 1.8 0 1 0 -3.6 0zM499.14 200.37a1.8 1.8 0 1 0 3.6 0a1.8 1.8 0 1 0 -3.6 0zM502.07 201.26a1.8 1.8 0 1 0 3.6 0a1.8 1.8 0 1 0 -3.6 0zM505 202.17a1.8 1.8 0 1 0 3.6 0a1.8 1.8 0 1 0 -3.6 0zM507.93 203.12a1.8 1.8 0 1 0 3.6 0a1.8 1.8 0 1 0 -3.6 0zM510.86 204.11a1.8 1.8 0 1 0 3.6 0a1.8 1.8 0 1 0 -3.6 0zM513.79 205.16a1.8 1.8 0 1 0 3.6 0a1.8 1.8 0 1 0 -3.6 0zM516.72 206.3a1.8 1.8 0 1 0 3.6 0a1.8 1.8 0 1 0 -3.6 0zM519.65 207.5a1.8 1.8 0 1 0 3.6 0a1.8 1.8 0 1 0 -3.6 0zM522.58 208.73a1.8 1.8 0 1 0 3.6 0a1.8 1.8 0 1 0 -3.6 0zM525.51 210.09a1.8 1.8 0 1 0 3.6 0a1.8 1.8 0 1 0 -3.6 0zM528.44 211.7a1.8 1.8 0 1 0 3.6 0a1.8 1.8 0 1 0 -3.6 0zM531.37 213.7a1.8 1.8 0 1 0 3.6 0a1.8 1.8 0 1 0 -3.6 0zM534.3 216.19a1.8 1.8 0 1 0 3.6 0a1.8 1.8 0 1 0 -3.6 0zM537.23 219.13a1.8 1.8 0 1 0 3.6 0a1.8 1.8 0 1 0 -3.6 0zM540.16 222.52a1.8 1.8 0 1 0 3.6 0a1.8 1.8 0 1 0 -3.6 0zM543.09 226.54a1.8 1.8 0 1 0 3.6 0a1.8 1.8 0 1 0 -3.6 0zM546.02 231.52a1.8 1.8 0 1 0 3.6 0a1.8 1.8 0 1 0 -3.6 0zM548.95 237.82a1.8 1.8 0 1 0 3.6 0a1.8 1.8 0 1 0 -3.6 0zM551.88 246.27a1.8 1.8 0 1 0 3.6 0a1.8 1.8 0 1 0 -3.6 0zM554.81 259.05a1.8 1.8 0 1 0 3.6 0a1.8 1.8 0 1 0 -3.6 0zM557.74 273.58a1.8 1.8 0 1 0 3.6 0a1.8 1.8 0 1 0 -3.6 0zM560.67 307.3a1.8 1.8 0 1 0 3.6 0a1.8 1.8 0 1 0 -3.6 0zM563.6 307.3a1.8 1.8 0 1 0 3.6 0a1.8 1.8 0 1 0 -3.6 0zM566.53 307.3a1.8 1.8 0 1 0 3.6 0a1.8 1.8 0 1 0 -3.6 0zM569.46 307.3a1.8 1.8 0 1 0 3.6 0a1.8 1.8 0 1 0 -3.6 0zM572.39 307.3a1.8 1.8 0 1 0 3.6 0a1.8 1.8 0 1 0 -3.6 0zM575.32 307.3a1.8 1.8 0 1 0 3.6 0a1.8 1.8 0 1 0 -3.6 0zM578.25 307.3a1.8 1.8 0 1 0 3.6 0a1.8 1.8 0 1 0 -3.6 0zM581.18 307.3a1.8 1.8 0 1 0 3.6 0a1.8 1.8 0 1 0 -3.6 0zM584.11 307.3a1.8 1.8 0 1 0 3.6 0a1.8 1.8 0 1 0 -3.6 0zM587.04 307.3a1.8 1.8 0 1 0 3.6 0a1.8 1.8 0 1 0 -3.6 0zM589.97 307.3a1.8 1.8 0 1 0 3.6 0a1.8 1.8 0 1 0 -3.6 0zM592.9 307.3a1.8 1.8 0 1 0 3.6 0a1.8 1.8 0 1 0 -3.6 0z" fill="#ff2a2a"/>
<path d="M448.2 191.04 L451.13 191.05 L454.06 191.07 L456.99 191.09 L459.92 191.11 L462.85 191.14 L465.78 191.17 L468.71 191.21 L471.64 191.26 L474.57 191.32 L477.5 191.39 L480.43 191.47 L483.36 191.57 L486.29 191.68 L489.22 191.82 L492.15 191.97 L495.08 192.16 L498.01 192.37 L500.94 192.61 L503.87 192.87 L506.8 193.17 L509.73 193.49 L512.66 193.84 L515.59 194.24 L518.52 194.7 L521.45 195.2 L524.38 195.75 L527.31 196.39 L530.24 197.18 L533.17 198.23 L536.1 199.63 L539.03 201.42 L541.96 203.64 L544.89 206.5 L547.82 210.37 L550.75 215.77 L553.68 223.83 L556.61 237.76 L559.54 255.98 L562.47 307.3 L565.4 307.3 L568.33 307.3 L571.26 307.3 L574.19 307.3 L577.12 307.3 L580.05 307.3 L582.98 307.3 L585.91 307.3 L588.84 307.3 L591.77 307.3 L594.7 307.3" fill="none" stroke="#1f6fe8" stroke-width="1.1" stroke-linejoin="round"/>
<path d="M448.2 188.99L450.3 192.58L446.1 192.58zM451.13 189L453.23 192.59L449.03 192.59zM454.06 189.01L456.16 192.61L451.96 192.61zM456.99 189.03L459.09 192.62L454.89 192.62zM459.92 189.06L462.02 192.65L457.82 192.65zM462.85 189.08L464.95 192.68L460.75 192.68zM465.78 189.12L467.88 192.71L463.68 192.71zM468.71 189.16L470.81 192.75L466.61 192.75zM471.64 189.21L473.74 192.8L469.54 192.8zM474.57 189.27L476.67 192.86L472.47 192.86zM477.5 189.34L479.6 192.93L475.4 192.93zM480.43 189.42L482.53 193.01L478.33 193.01zM483.36 189.52L485.46 193.11L481.26 193.11zM486.29 189.63L488.39 193.22L484.19 193.22zM489.22 189.77L491.32 193.36L487.12 193.36zM492.15 189.92L494.25 193.51L490.05 193.51zM495.08 190.11L497.18 193.7L492.98 193.7zM498.01 190.32L500.11 193.91L495.91 193.91zM500.94 190.56L503.04 194.15L498.84 194.15zM503.87 190.82L505.97 194.41L501.77 194.41zM506.8 191.12L508.9 194.71L504.7 194.71zM509.73 191.44L511.83 195.03L507.63 195.03zM512.66 191.79L514.76 195.38L510.56 195.38zM515.59 192.19L517.69 195.78L513.49 195.78zM518.52 192.65L520.62 196.24L516.42 196.24zM521.45 193.15L523.55 196.74L519.35 196.74zM524.38 193.7L526.48 197.29L522.28 197.29zM527.31 194.34L529.41 197.93L525.21 197.93zM530.24 195.13L532.34 198.72L528.14 198.72zM533.17 196.18L535.27 199.77L531.07 199.77zM536.1 197.58L538.2 201.17L534 201.17zM539.03 199.37L541.13 202.96L536.93 202.96zM541.96 201.59L544.06 205.18L539.86 205.18zM544.89 204.45L546.99 208.04L542.79 208.04zM547.82 208.32L549.92 211.91L545.72 211.91zM550.75 213.71L552.85 217.31L548.65 217.31zM553.68 221.78L555.78 225.37L551.58 225.37zM556.61 235.71L558.71 239.3L554.51 239.3zM559.54 253.93L561.64 257.52L557.44 257.52zM562.47 305.25L564.57 308.84L560.37 308.84zM565.4 305.25L567.5 308.84L563.3 308.84zM568.33 305.25L570.43 308.84L566.23 308.84zM571.26 305.25L573.36 308.84L569.16 308.84zM574.19 305.25L576.29 308.84L572.09 308.84zM577.12 305.25L579.22 308.84L575.02 308.84zM580.05 305.25L582.15 308.84L577.95 308.84zM582.98 305.25L585.08 308.84L580.88 308.84zM585.91 305.25L588.01 308.84L583.81 308.84zM588.84 305.25L590.94 308.84L586.74 308.84zM591.77 305.25L593.87 308.84L589.67 308.84zM594.7 305.25L596.8 308.84L592.6 308.84z" fill="#1f6fe8"/>
<path d="M448.2 191 L451.13 191 L454.06 191 L456.99 191.01 L459.92 191.01 L462.85 191.01 L465.78 191.02 L468.71 191.02 L471.64 191.03 L474.57 191.04 L477.5 191.05 L480.43 191.07 L483.36 191.09 L486.29 191.11 L489.22 191.14 L492.15 191.18 L495.08 191.23 L498.01 191.29 L500.94 191.35 L503.87 191.44 L506.8 191.53 L509.73 191.64 L512.66 191.77 L515.59 191.92 L518.52 192.1 L521.45 192.3 L524.38 192.54 L527.31 192.82 L530.24 193.19 L533.17 193.71 L536.1 194.45 L539.03 195.45 L541.96 196.77 L544.89 198.61 L547.82 201.29 L550.75 205.35 L553.68 212.01 L556.61 224.9 L559.54 243.91 L562.47 307.3 L565.4 307.3 L568.33 307.3 L571.26 307.3 L574.19 307.3 L577.12 307.3 L580.05 307.3 L582.98 307.3 L585.91 307.3 L588.84 307.3 L591.77 307.3 L594.7 307.3" fill="none" stroke="#23a455" stroke-width="1.1" stroke-linejoin="round"/>
<path d="M448.2 193.05L450.3 189.46L446.1 189.46zM451.13 193.06L453.23 189.46L449.03 189.46zM454.06 193.06L456.16 189.47L451.96 189.47zM456.99 193.06L459.09 189.47L454.89 189.47zM459.92 193.06L462.02 189.47L457.82 189.47zM462.85 193.06L464.95 189.47L460.75 189.47zM465.78 193.07L467.88 189.48L463.68 189.48zM468.71 193.07L470.81 189.48L466.61 189.48zM471.64 193.08L473.74 189.49L469.54 189.49zM474.57 193.09L476.67 189.5L472.47 189.5zM477.5 193.1L479.6 189.51L475.4 189.51zM480.43 193.12L482.53 189.53L478.33 189.53zM483.36 193.14L485.46 189.55L481.26 189.55zM486.29 193.16L488.39 189.57L484.19 189.57zM489.22 193.19L491.32 189.6L487.12 189.6zM492.15 193.23L494.25 189.64L490.05 189.64zM495.08 193.28L497.18 189.69L492.98 189.69zM498.01 193.34L500.11 189.75L495.91 189.75zM500.94 193.41L503.04 189.82L498.84 189.82zM503.87 193.49L505.97 189.9L501.77 189.9zM506.8 193.58L508.9 189.99L504.7 189.99zM509.73 193.69L511.83 190.1L507.63 190.1zM512.66 193.82L514.76 190.23L510.56 190.23zM515.59 193.97L517.69 190.38L513.49 190.38zM518.52 194.15L520.62 190.56L516.42 190.56zM521.45 194.35L523.55 190.76L519.35 190.76zM524.38 194.59L526.48 191L522.28 191zM527.31 194.88L529.41 191.28L525.21 191.28zM530.24 195.25L532.34 191.66L528.14 191.66zM533.17 195.76L535.27 192.17L531.07 192.17zM536.1 196.5L538.2 192.91L534 192.91zM539.03 197.5L541.13 193.91L536.93 193.91zM541.96 198.83L544.06 195.24L539.86 195.24zM544.89 200.66L546.99 197.07L542.79 197.07zM547.82 203.34L549.92 199.75L545.72 199.75zM550.75 207.4L552.85 203.81L548.65 203.81zM553.68 214.06L555.78 210.47L551.58 210.47zM556.61 226.95L558.71 223.36L554.51 223.36zM559.54 245.97L561.64 242.37L557.44 242.37zM562.47 309.35L564.57 305.76L560.37 305.76zM565.4 309.35L567.5 305.76L563.3 305.76zM568.33 309.35L570.43 305.76L566.23 305.76zM571.26 309.35L573.36 305.76L569.16 305.76zM574.19 309.35L576.29 305.76L572.09 305.76zM577.12 309.35L579.22 305.76L575.02 305.76zM580.05 309.35L582.15 305.76L577.95 305.76zM582.98 309.35L585.08 305.76L580.88 305.76zM585.91 309.35L588.01 305.76L583.81 305.76zM588.84 309.35L590.94 305.76L586.74 305.76zM591.77 309.35L593.87 305.76L589.67 305.76zM594.7 309.35L596.8 305.76L592.6 305.76z" fill="#23a455"/>
<path d="M453.7 271.25H471.3" stroke="#3a3a3a" stroke-width="1.1"/>
<path d="M460.85 269.6h3.3v3.3h-3.3z" fill="#3a3a3a"/>
<text x="473.8" y="273.95" font-size="7.5" text-anchor="start">100nm</text>
<path d="M453.7 280.6H471.3" stroke="#ff2a2a" stroke-width="1.1"/>
<path d="M460.85 280.6a1.65 1.65 0 1 0 3.3 0a1.65 1.65 0 1 0 -3.3 0z" fill="#ff2a2a"/>
<text x="473.8" y="283.3" font-size="7.5" text-anchor="start">400nm</text>
<path d="M453.7 290.5H471.3" stroke="#1f6fe8" stroke-width="1.1"/>
<path d="M462.5 288.62L464.45 291.91L460.55 291.91z" fill="#1f6fe8"/>
<text x="473.8" y="293.2" font-size="7.5" text-anchor="start">700nm</text>
<path d="M453.7 300.3H471.3" stroke="#23a455" stroke-width="1.1"/>
<path d="M462.5 302.18L464.45 298.89L460.55 298.89z" fill="#23a455"/>
<text x="473.8" y="303" font-size="7.5" text-anchor="start">1000nm</text>
<text x="521.3" y="329" font-size="12" text-anchor="middle">Wavelength(nm)</text>
<text transform="translate(430.8 248.6) rotate(-90)" font-size="10" text-anchor="middle">QE(%)</text>
<text x="417.9" y="195.5" font-size="14" text-anchor="start">(f)</text>
</svg>
</body></html>
